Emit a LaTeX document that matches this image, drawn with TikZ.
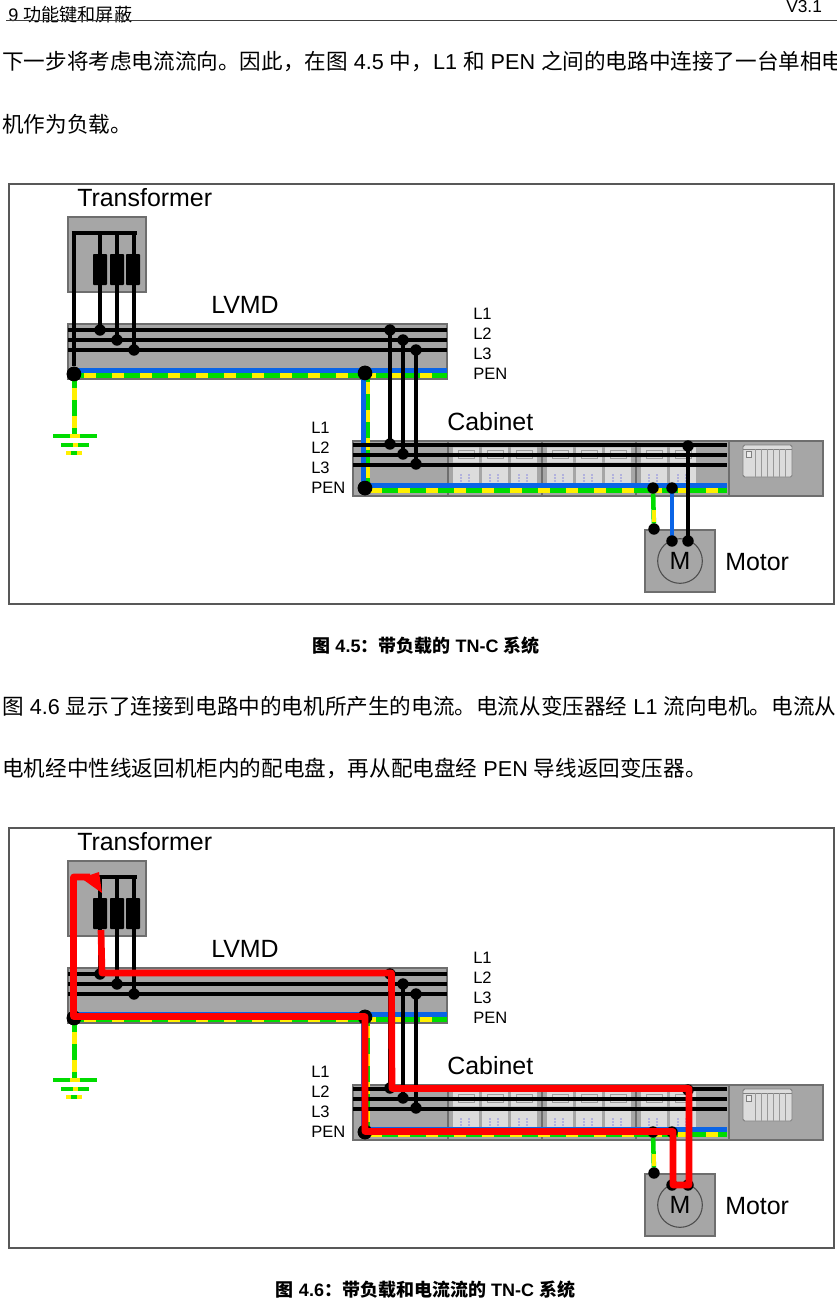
\documentclass[tikz,border=0pt]{standalone}
\usepackage{fontspec}
\setmainfont{Liberation Sans}[BoldFont={Liberation Sans Bold}]
\newfontfamily\cjk{Noto Sans CJK SC}
\newfontfamily\cjkb{Noto Sans CJK SC Bold}
\definecolor{boxgray}{HTML}{A6A6A6}
\definecolor{boxedge}{HTML}{6E6E6E}
\definecolor{wblue}{HTML}{0A64E6}
\definecolor{wgreen}{HTML}{00DC00}
\definecolor{wyellow}{HTML}{FFF000}
\definecolor{wred}{HTML}{FF0000}
\definecolor{modtop}{HTML}{C8C8C8}
\definecolor{modlow}{HTML}{DCDCDC}
\tikzset{
  panel/.style={fill=boxgray,draw=boxedge,line width=.9pt},
  wire/.style={line width=3.5pt,black},
  busbar/.style={line width=3pt,black},
  bluewire/.style={line width=3.4pt,wblue},
  pegreen/.style={line width=3.4pt,wgreen},
  pegreenwide/.style={line width=4.1pt,wgreen},
  peyellow/.style={line width=3.4pt,wyellow,dash pattern=on 9pt off 12pt},
  peyellowwide/.style={line width=4.1pt,wyellow,dash pattern=on 9pt off 12pt},
  gndg/.style={line width=3pt,wgreen},
  gndy/.style={line width=3pt,wyellow},
  dot/.style={circle,fill=black,inner sep=0pt,minimum size=7.8pt},
  bigdot/.style={circle,fill=black,inner sep=0pt,minimum size=11pt},
  coil/.style={fill=black,rounded corners=.6pt},
  current/.style={line width=5pt,wred,line join=round},
  big/.style={font=\fontsize{18.7pt}{20pt}\selectfont,anchor=west,inner sep=0pt},
  small/.style={font=\fontsize{12.4pt}{14pt}\selectfont,anchor=west,inner sep=0pt},
  body/.style={font=\fontsize{16.2pt}{18pt}\selectfont,anchor=west,inner sep=0pt},
  caption/.style={font=\fontsize{13.5pt}{14pt}\selectfont\bfseries,anchor=center,inner sep=0pt},
  head/.style={font=\fontsize{13.6pt}{14pt}\selectfont,anchor=west,inner sep=0pt},
  ver/.style={font=\fontsize{13pt}{14pt}\selectfont,anchor=west,inner sep=0pt},
}
\newcommand{\pewire}[2]{\draw[pegreen] (#1) -- (#2);}
\newcommand{\basediagram}{%
  \draw[draw=boxedge!80!black,line width=.9pt,fill=white] (9,184) rectangle (834,604);
  % transformer
  \draw[panel] (68,217) rectangle (146,292);
  \node[big] (ttrans) at (77,197.5) {Transformer};
  \node[big] (tlvmd) at (211,304.5) {LVMD};
  \node[big] (tcab) at (447,422) {Cabinet};
  \node[big] (tmot) at (725,562.5) {Motor};
  % LVMD panel
  \draw[panel] (68,324) rectangle (447,379);
  % cabinet panels
  \draw[panel] (353,441) rectangle (823,496);
  \foreach \s in {448,542,636,729} \draw[boxedge,line width=.8pt] (\s,441) -- (\s,496);
  \foreach \m in {453,482,511,547,576,605,641,670} {
    \fill[modtop] (\m,447) rectangle ++(26,19);
    \fill[modlow] (\m,448) rectangle ++(26,14);
    \draw[black!38,line width=.5pt] (\m+5,450) rectangle ++(16,8);
    \fill[modlow] (\m,467) rectangle ++(26,17);
    \foreach \q in {8,16} {
      \draw[black!45!blue!30!white,line width=.8pt,dash pattern=on 1.3pt off 1.1pt] (\m+\q,474) -- (\m+\q,484);
    }
  }
  % PLC
  \draw[black!50,fill=modlow,line width=.7pt,rounded corners=1.2pt] (743,477) -- (743,445) -- (792,445) -- (792,477) -- cycle;
  \draw[black!50,line width=.7pt] (743,449) -- (792,449);
  \draw[black!50,fill=black!8,line width=.6pt] (746,451) rectangle (751,457);
  \foreach \v in {755,761,767,773,779,785} \draw[black!40,line width=.6pt] (\v,449) -- (\v,477);
  % motor
  \draw[panel] (645,530) rectangle (715,592);
  \node[circle,draw=boxedge!70!black,line width=.8pt,minimum size=33.5pt,inner sep=0pt,font=\fontsize{18.7pt}{20pt}\selectfont] (mot) at (680,561) {M};
  % coils
  \foreach \c/\n in {93/a,110/b,126/c} \fill[coil] (\c,254) rectangle ++(14,31);
  % junctions
  \node[dot] (a1) at (100,330) {};
  \node[dot] (a2) at (117,340) {};
  \node[dot] (a3) at (134,350) {};
  \node[bigdot] (pe1) at (74,374) {};
  \node[dot] (b1) at (390,330) {};
  \node[dot] (b2) at (403,340) {};
  \node[dot] (b3) at (416,350) {};
  \node[bigdot] (pe2) at (365,373) {};
  \node[dot] (c1) at (390,444) {};
  \node[dot] (c2) at (403,454) {};
  \node[dot] (c3) at (416,464) {};
  \node[bigdot] (pe3) at (365,488) {};
  \node[dot] (e1) at (688,446) {};
  \node[dot] (e2) at (672,488) {};
  \node[dot] (e3) at (653,488) {};
  \node[dot] (m1) at (688,541) {};
  \node[dot] (m2) at (672,541) {};
  \node[dot] (m3) at (654,529) {};
  % transformer wiring
  \coordinate (t0) at (71.5,233); \coordinate (tr) at (137,233);
  \coordinate (t1) at (100,233); \coordinate (t2) at (117,233); \coordinate (t3) at (134,233); \coordinate (tl) at (74,233);
  \draw[wire] (t0) -- (tr);
  \draw[wire] (tl) -- (pe1);
  \draw[wire] (t1) -- (a1);
  \draw[wire] (t2) -- (a2);
  \draw[wire] (t3) -- (a3);
  % LVMD bars
  \coordinate (ll1) at (68,330); \coordinate (lr1) at (447,330);
  \coordinate (ll2) at (68,340); \coordinate (lr2) at (447,340);
  \coordinate (ll3) at (68,350); \coordinate (lr3) at (447,350);
  \draw[busbar] (ll1) -- (lr1);
  \draw[busbar] (ll2) -- (lr2);
  \draw[busbar] (ll3) -- (lr3);
  \coordinate (lb) at (74,370.5); \coordinate (lbr) at (447,370.5);
  \coordinate (lg) at (74,375.5); \coordinate (lgr) at (447,375.5); \coordinate (ly) at (84,375.5);
  \draw[bluewire] (lb) -- (lbr);
  \draw[pegreenwide] (lg) -- (lgr);
  \draw[peyellowwide] (ly) -- (lgr);
  % ground
  \coordinate (g0) at (74.5,379); \coordinate (g1) at (74.5,435);
  \pewire{g0}{g1}
  \coordinate (gy) at (74.5,388);
  \draw[peyellow] (gy) -- (g1);
  \draw[gndg] (53,436) -- (97,436);
  \draw[gndy] (70,436) -- (80,436);
  \draw[gndg] (61,445) -- (89,445);
  \draw[gndy] (73,445) -- (78,445);
  \draw[gndy] (66,453) -- (82,453);
  \draw[gndg] (71,453) -- (77,453);
  % down to cabinet
  \coordinate (v1) at (363.5,373); \coordinate (v2) at (363.5,488);
  \coordinate (w1) at (368,373); \coordinate (w2) at (368,488); \coordinate (wy) at (368,382);
  \draw[bluewire] (v1) -- (v2);
  \pewire{w1}{w2}
  \draw[peyellow] (wy) -- (w2);
  % cabinet bars
  \coordinate (cl1) at (353,445); \coordinate (cr1) at (727,445);
  \coordinate (cl2) at (353,455); \coordinate (cr2) at (727,455);
  \coordinate (cl3) at (353,465); \coordinate (cr3) at (727,465);
  \draw[busbar] (cl1) -- (cr1);
  \draw[busbar] (cl2) -- (cr2);
  \draw[busbar] (cl3) -- (cr3);
  \coordinate (cb) at (365,485.5); \coordinate (cbr) at (727,485.5);
  \coordinate (cg) at (365,490.5); \coordinate (cgr) at (727,490.5); \coordinate (cy) at (370,490.5);
  \draw[bluewire] (cb) -- (cbr);
  \draw[pegreenwide] (cg) -- (cgr);
  \draw[peyellowwide] (cy) -- (cgr);
  % risers
  \draw[wire] (b1) -- (c1);
  \draw[wire] (b2) -- (c2);
  \draw[wire] (b3) -- (c3);
  % motor feeds
  \draw[wire] (e1) -- (m1);
  \draw[bluewire] (e2) -- (m2);
  \pewire{e3}{m3}
  \coordinate (my) at (653.5,510); \coordinate (my2) at (653.5,522);
  \draw[gndy] (my) -- (my2);
  % redraw junctions over the wires
  \foreach \d in {a1,a2,a3,b1,b2,b3,c1,c2,c3,e1,m1,e2,e3,m2,m3} \fill[black] (\d) circle (5.7);
  \foreach \d in {pe1,pe2,pe3} \fill[black] (\d) circle (7.3);
  % labels
  \node[small] (ra) at (473,314) {L1};
  \node[small] (rb) at (473,334) {L2};
  \node[small] (rc) at (473,354) {L3};
  \node[small] (rd) at (473,374) {PEN};
  \node[small] (sa) at (311,428) {L1};
  \node[small] (sb) at (311,448) {L2};
  \node[small] (sc) at (311,468) {L3};
  \node[small] (sd) at (311,488) {PEN};
}
\begin{document}
\begin{tikzpicture}[x=.75pt,y=-.75pt]
  \fill[white] (0,0) rectangle (837,1302);
  \useasboundingbox (0,0) rectangle (837,1302);
  \clip (0,0) rectangle (837,1302);
  % header
  \node[head] (hd) at (8,14.5) {9 {\cjk 功能键和屏蔽}};
  \node[ver] (ver) at (786,7) {V3.1};
  \coordinate (ru1) at (6,20.5); \coordinate (ru2) at (837,20.5);
  \draw[black!75,line width=.7pt] (ru1) -- (ru2);
  % paragraphs
  \node[body] (p1) at (2,62) {{\cjk 下一步将考虑电流流向。因此，在图} 4.5 {\cjk 中，}L1 {\cjk 和} PEN {\cjk 之间的电路中连接了一台单相电}};
  \node[body] (p2) at (2,124) {\cjk 机作为负载。};
  \node[caption] (c1) at (426,646) {{\cjkb 图} 4.5{\cjkb ：带负载的} TN-C {\cjkb 系统}};
  \node[body] (p3) at (2,706.5) {{\cjk 图} 4.6 {\cjk 显示了连接到电路中的电机所产生的电流。电流从变压器经} L1 {\cjk 流向电机。电流从}};
  \node[body] (p4) at (2,768) {{\cjk 电机经中性线返回机柜内的配电盘，再从配电盘经} PEN {\cjk 导线返回变压器。}};
  \node[caption] (c2) at (425.5,1290) {{\cjkb 图} 4.6{\cjkb ：带负载和电流流的} TN-C {\cjkb 系统}};
  % figure 4.5
  \begin{scope}
    \basediagram
  \end{scope}
  % figure 4.6
  \begin{scope}[yshift=-483pt]
    \basediagram
    % current path
    \coordinate (r0) at (101,286);
    \coordinate (r1) at (102,329);
    \coordinate (r2) at (391.5,329);
    \coordinate (r3) at (392,444.5);
    \coordinate (r4) at (689,444.5);
    \coordinate (r5) at (689,541);
    \coordinate (r6) at (673,541);
    \coordinate (r7) at (673,487.5);
    \coordinate (r8) at (365,487.5);
    \coordinate (r9) at (365,372.5);
    \coordinate (r10) at (73.5,372.5);
    \coordinate (r11) at (73.5,233);
    \coordinate (r12) at (90,233);
    \draw[current] (r0) -- (r1) -- (r2) -- (r3) -- (r4) -- (r5) -- (r6) -- (r7) -- (r8) -- (r9) -- (r10) -- (r11) -- (r12);
    \coordinate (h1) at (81,234);
    \coordinate (h2) at (99,228);
    \coordinate (h3) at (102,249);
    \fill[wred] (h1) -- (h2) -- (h3) -- cycle;
  \end{scope}
\end{tikzpicture}
\end{document}
